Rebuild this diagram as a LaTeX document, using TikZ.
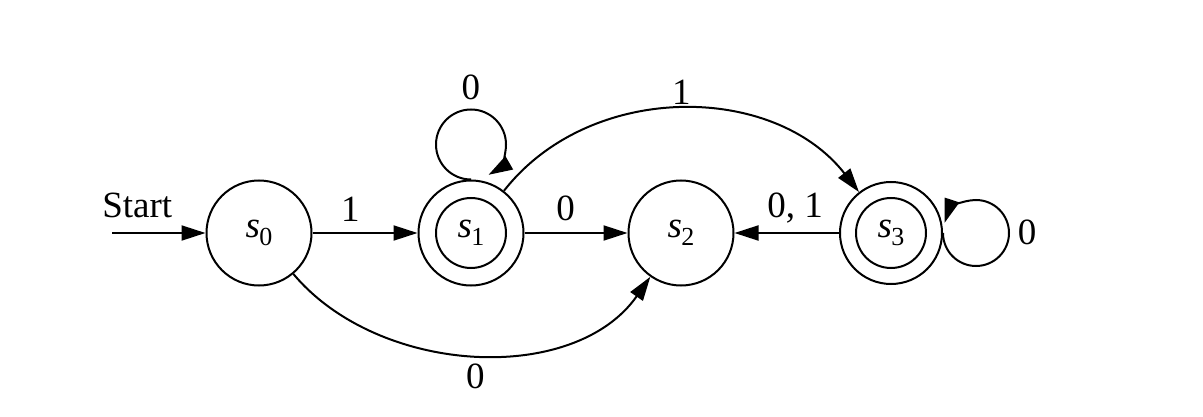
\documentclass[tikz,border=0pt]{standalone}
\usepackage{fontspec}
\setmainfont{Liberation Serif}
\usetikzlibrary{arrows.meta}
\newcommand\stname[1]{\textit{s}\kern-0.5pt\raisebox{-8pt}{\fontsize{26}{26}\selectfont #1}}
\begin{document}
\begin{tikzpicture}[x=1pt,y=1pt,
  every node/.style={font=\fontsize{37}{40}\selectfont, inner sep=0pt},
  state/.style={circle, draw, line width=2pt, minimum size=105pt},
  conn/.style={line width=2pt, -{Triangle[length=24pt,width=15pt]}}]
\useasboundingbox (0,0) rectangle (1203,416);
\node[state] (s0) at (259,183) {\stname{0}};
\node[state] (s1) at (471,183) {\stname{1}};
\node[state] (s2) at (681,183) {\stname{2}};
\node[state, minimum size=102pt] (s3) at (891,183) {\stname{3}};
\draw[line width=2pt] (s1) circle[radius=35];
\draw[line width=2pt] (s3) circle[radius=35];
\coordinate (start) at (112,183);
\draw[conn] (start) -- node[pos=0.27, yshift=28pt] {Start} (s0);
\draw[conn] (s0) -- node[pos=0.36, yshift=24pt] {1} (s1);
\draw[conn] (s1) -- node[pos=0.4, yshift=25pt] {0} (s2);
\draw[conn] (s3) -- node[pos=0.42, yshift=25pt] {0, 1} (s2);
\draw[conn] (s1) to[out=52, in=128, looseness=1] node[pos=0.5, yshift=17pt] {1} (s3);
\draw[conn] (s0) to[out=-50, in=-125, looseness=0.95] node[pos=0.5, yshift=-22pt] {0} (s2);
\draw[conn] (s1.north) arc[start angle=270, end angle=-60, radius=35] node[pos=0.545, yshift=22pt] {0};
\draw[conn] (s3.east) arc[start angle=180, end angle=522, radius=33] node[pos=0.527, xshift=18pt] {0};
\end{tikzpicture}
\end{document}
